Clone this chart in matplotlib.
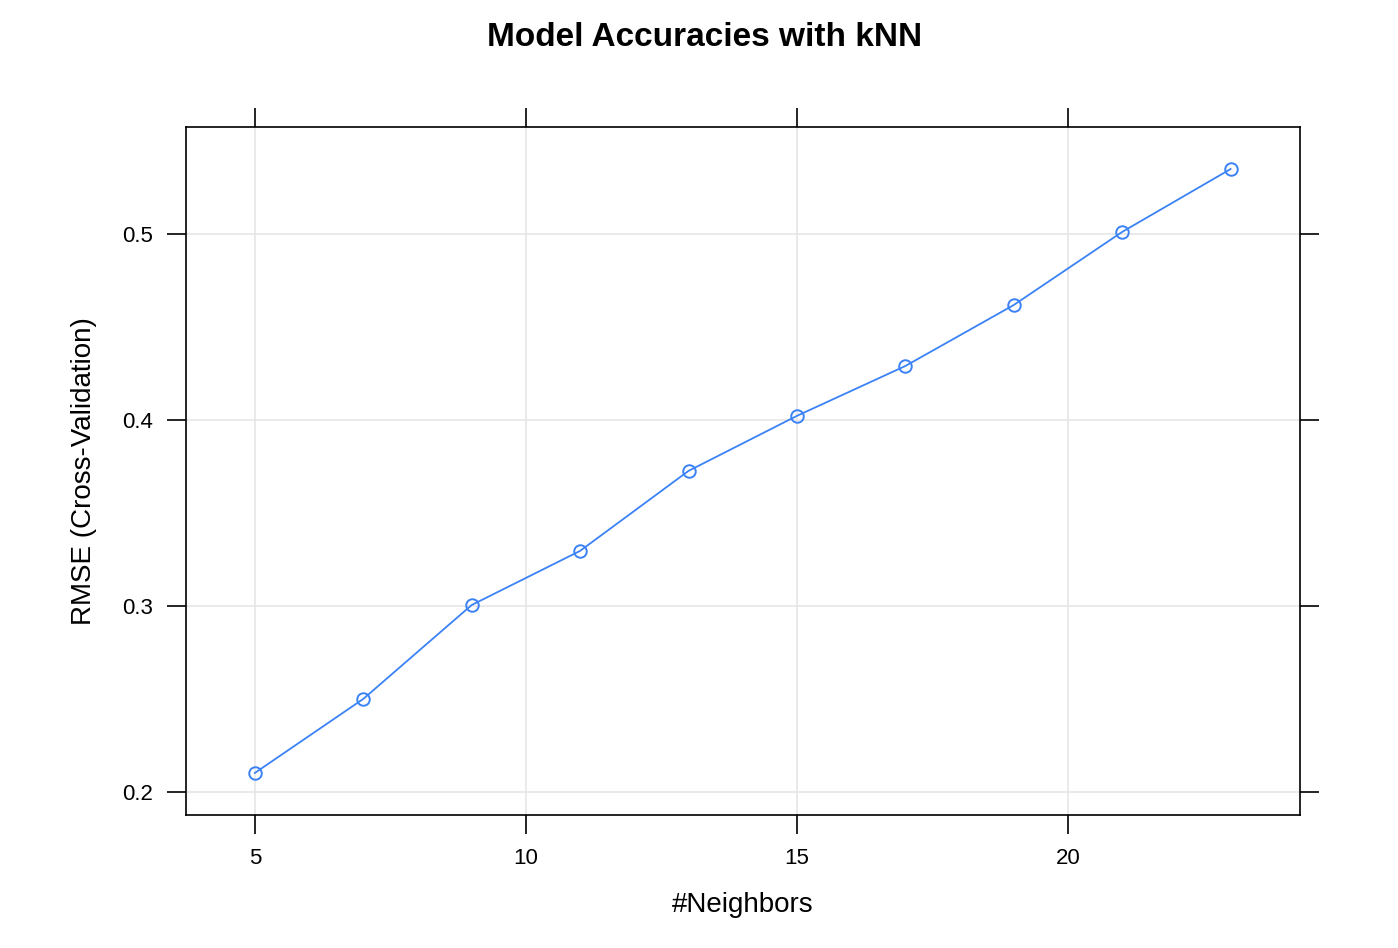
import matplotlib
matplotlib.use("Agg")
import matplotlib.pyplot as plt

neighbors = [5, 7, 9, 11, 13, 15, 17, 19, 21, 23]
rmse = [0.2102, 0.2500, 0.3005, 0.3296, 0.3726, 0.4022, 0.4290, 0.4618, 0.5011, 0.5349]
xticks = [5, 10, 15, 20]
yticks = [0.2, 0.3, 0.4, 0.5]

plt.rcParams['font.family'] = ['Liberation Sans', 'DejaVu Sans']
fig = plt.figure(figsize=(13.98, 9.48), dpi=100)
ax = fig.add_axes([186/1398, 1-815/948, (1300-186)/1398, (815-127)/948])
ax.plot(neighbors, rmse, color='#3b82f6', lw=1.3, marker='o', ms=9,
        mfc='none', mec='#3b82f6', mew=1.4, zorder=3)
ax.set_xlim(3.73, 24.28)
ax.set_ylim(0.1876, 0.5575)
ax.set_xticks(xticks)
ax.set_yticks(yticks)
ax.set_yticklabels([str(v) for v in yticks])
ax.grid(True, color='#e6e6e6', lw=1.2, zorder=0)
ax.tick_params(direction='out', length=14, width=1.2, labelsize=16,
               top=True, right=True, pad=10)
for s in ax.spines.values():
    s.set_linewidth(1.2)
ax.set_xlabel('#Neighbors', fontsize=20, labelpad=16)
ax.set_ylabel('RMSE (Cross-Validation)', fontsize=20, labelpad=18)
fig.text(705/1398, 1-37/948, 'Model Accuracies with kNN', fontsize=24,
         fontweight='bold', ha='center', va='center')
fig.savefig('out.png', dpi=100)
